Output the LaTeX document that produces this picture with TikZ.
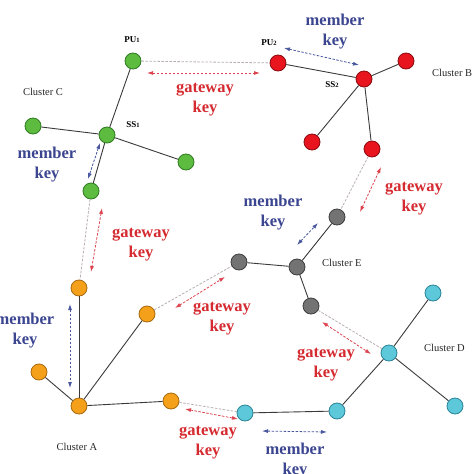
\documentclass[tikz,border=0pt]{standalone}
\usepackage{fontspec}
\setmainfont{Liberation Serif}
\usetikzlibrary{arrows.meta}
\definecolor{gfill}{HTML}{5DBB3F}\definecolor{gdraw}{HTML}{2F7A22}
\definecolor{rfill}{HTML}{E8141E}\definecolor{rdraw}{HTML}{8A0A10}
\definecolor{ofill}{HTML}{F5A01A}\definecolor{odraw}{HTML}{A86A0E}
\definecolor{kfill}{HTML}{737373}\definecolor{kdraw}{HTML}{3E3E3E}
\definecolor{cfill}{HTML}{5CC8DA}\definecolor{cdraw}{HTML}{2A8496}
\definecolor{redtxt}{HTML}{D42A30}\definecolor{bluetxt}{HTML}{3B4590}
\definecolor{redarr}{HTML}{DC4450}\definecolor{bluearr}{HTML}{4A58A0}
\definecolor{grayarr}{HTML}{B8AEB0}\definecolor{edgec}{HTML}{3A3A3A}
\tikzset{
  dot/.style={circle,minimum size=16pt,inner sep=0pt,line width=0.8pt},
  gdot/.style={dot,fill=gfill,draw=gdraw},
  rdot/.style={dot,fill=rfill,draw=rdraw},
  odot/.style={dot,fill=ofill,draw=odraw},
  kdot/.style={dot,fill=kfill,draw=kdraw},
  cdot/.style={dot,fill=cfill,draw=cdraw},
  link/.style={draw=edgec,line width=0.9pt},
  gwline/.style={draw=grayarr,line width=0.8pt,dash pattern=on 2.5pt off 1.5pt},
  gwarrow/.style={draw=redarr,line width=0.8pt,dash pattern=on 2.5pt off 1.5pt,{Latex[length=6pt,width=4pt]}-{Latex[length=6pt,width=4pt]}},
  mkarrow/.style={draw=bluearr,line width=0.8pt,dash pattern=on 2.5pt off 1.5pt,{Latex[length=6pt,width=4pt]}-{Latex[length=6pt,width=4pt]}},
  gwlabel/.style={text=redtxt,font=\fontsize{16.5}{20}\selectfont\bfseries,align=center,inner sep=0pt},
  mklabel/.style={text=bluetxt,font=\fontsize{16.5}{20}\selectfont\bfseries,align=center,inner sep=0pt},
  clabel/.style={text=black!85,font=\fontsize{10.5}{12}\selectfont,inner sep=0pt},
  plabel/.style={text=black,font=\fontsize{9}{10}\selectfont\bfseries,inner sep=0pt}
}
\newcommand{\subsm}[1]{{\fontsize{6.5}{7}\selectfont #1}}
\begin{document}
\begin{tikzpicture}[x=1pt,y=-1pt]
\useasboundingbox (0,0) rectangle (474,474);
% Cluster C
\node[gdot] (pu1) at (133,61) {};
\node[gdot] (ss1) at (107,135) {};
\node[gdot] (cl) at (33,126) {};
\node[gdot] (cr) at (186,162) {};
\node[gdot] (cb) at (91,191) {};
% Cluster B
\node[rdot] (pu2) at (278,63) {};
\node[rdot] (ss2) at (364,79) {};
\node[rdot] (btr) at (406,61) {};
\node[rdot] (bll) at (312,142) {};
\node[rdot] (bb) at (372,149) {};
% Cluster A
\node[odot] (at) at (79,288) {};
\node[odot] (am) at (147,314) {};
\node[odot] (al) at (39,372) {};
\node[odot] (ac) at (79,406) {};
\node[odot] (ar) at (171,401) {};
% Cluster E
\node[kdot] (el) at (239,262) {};
\node[kdot] (ec) at (297,267) {};
\node[kdot] (eu) at (337,217) {};
\node[kdot] (eb) at (311,306) {};
% Cluster D
\node[cdot] (dc) at (389,353) {};
\node[cdot] (dtr) at (433,293) {};
\node[cdot] (dbr) at (455,406) {};
\node[cdot] (dm) at (337,411) {};
\node[cdot] (dl) at (245,413) {};
% solid links
\draw[link] (pu1) -- (ss1); \draw[link] (ss1) -- (cl); \draw[link] (ss1) -- (cr); \draw[link] (ss1) -- (cb);
\draw[link] (pu2) -- (ss2); \draw[link] (ss2) -- (btr); \draw[link] (ss2) -- (bll); \draw[link] (ss2) -- (bb);
\draw[link] (ac) -- (at); \draw[link] (ac) -- (am); \draw[link] (ac) -- (al); \draw[link] (ac) -- (ar);
\draw[link] (ec) -- (el); \draw[link] (ec) -- (eu); \draw[link] (ec) -- (eb);
\draw[link] (dc) -- (dtr); \draw[link] (dc) -- (dbr); \draw[link] (dc) -- (dm); \draw[link] (dm) -- (dl);
% gateway dashed lines
\draw[gwline] (pu1) -- (pu2);
\draw[gwline] (cb) -- (at);
\draw[gwline] (am) -- (el);
\draw[gwline] (bb) -- (eu);
\draw[gwline] (eb) -- (dc);
\draw[gwline] (ar) -- (dl);
% arrow end points
\coordinate (g1a) at (147,73); \coordinate (g1b) at (260,73);
\coordinate (g2a) at (102,208); \coordinate (g2b) at (91,272);
\coordinate (g3a) at (175,308); \coordinate (g3b) at (225,277);
\coordinate (g4a) at (381,167); \coordinate (g4b) at (360,212);
\coordinate (g5a) at (322,322); \coordinate (g5b) at (371,354);
\coordinate (g6a) at (185,409); \coordinate (g6b) at (238,419);
\coordinate (m1a) at (284,48); \coordinate (m1b) at (359,65);
\coordinate (m2a) at (100,143); \coordinate (m2b) at (88,179);
\coordinate (m3a) at (70,304); \coordinate (m3b) at (70,388);
\coordinate (m4a) at (297,245); \coordinate (m4b) at (318,223);
\coordinate (m5a) at (262,431); \coordinate (m5b) at (327,432);
\draw[gwarrow] (g1a) -- (g1b);
\draw[gwarrow] (g2a) -- (g2b);
\draw[gwarrow] (g3a) -- (g3b);
\draw[gwarrow] (g4a) -- (g4b);
\draw[gwarrow] (g5a) -- (g5b);
\draw[gwarrow] (g6a) -- (g6b);
\draw[mkarrow] (m1a) -- (m1b);
\draw[mkarrow] (m2a) -- (m2b);
\draw[mkarrow] (m3a) -- (m3b);
\draw[mkarrow] (m4a) -- (m4b);
\draw[mkarrow] (m5a) -- (m5b);
% labels
\node[gwlabel] (gl1) at (205,100) {gateway\\key};
\node[gwlabel] (gl2) at (141,245) {gateway\\key};
\node[gwlabel] (gl3) at (222,319) {gateway\\key};
\node[gwlabel] (gl4) at (414,199) {gateway\\key};
\node[gwlabel] (gl5) at (326,365) {gateway\\key};
\node[gwlabel] (gl6) at (208,443) {gateway\\key};
\node[mklabel] (ml1) at (335,32) {member\\key};
\node[mklabel] (ml2) at (47,165) {member\\key};
\node[mklabel] (ml3) at (25,331) {member\\key};
\node[mklabel] (ml4) at (273,213) {member\\key};
\node[mklabel] (ml5) at (295,461) {member\\key};
\node[clabel] (cC) at (43,92) {Cluster C};
\node[clabel,anchor=west] (cB) at (432,73) {Cluster B};
\node[clabel,anchor=west] (cE) at (322,263) {Cluster E};
\node[clabel,anchor=west] (cD) at (424,348) {Cluster D};
\node[clabel] (cA) at (77,447) {Cluster A};
\node[plabel] (lpu1) at (132,40) {PU\subsm{1}};
\node[plabel] (lss1) at (133,125) {SS\subsm{1}};
\node[plabel] (lpu2) at (269,43) {PU\subsm{2}};
\node[plabel] (lss2) at (332,85) {SS\subsm{2}};
\end{tikzpicture}
\end{document}
